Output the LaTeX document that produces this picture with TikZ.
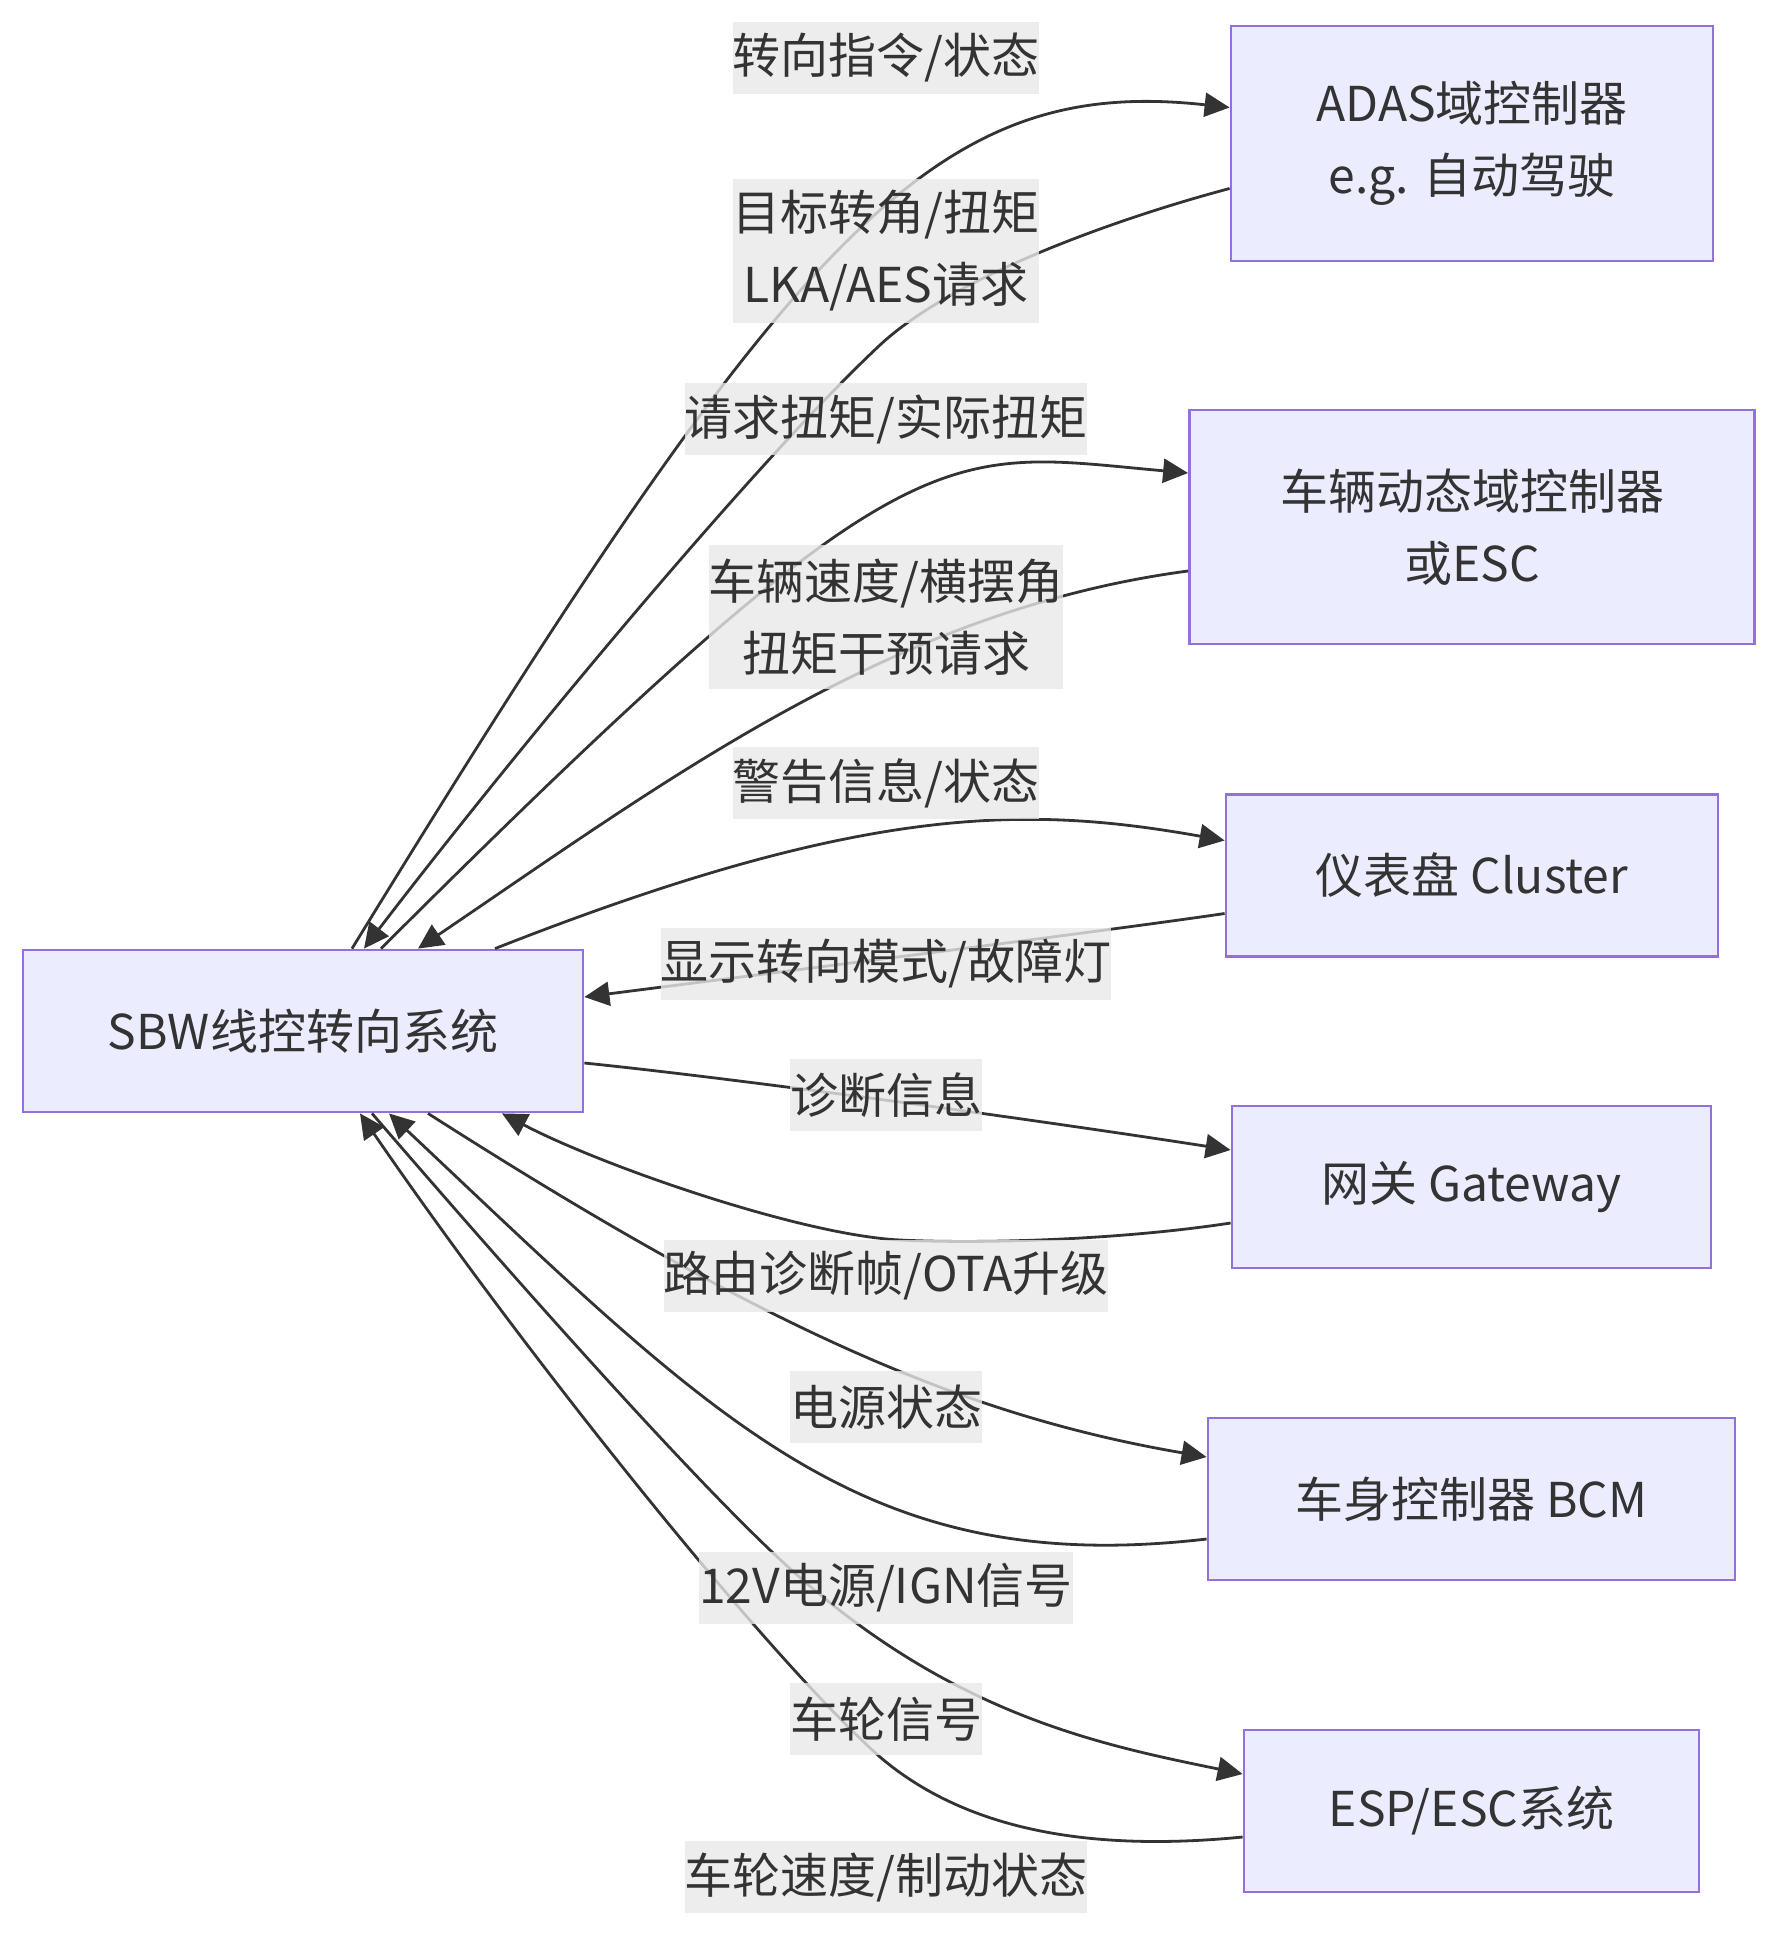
\documentclass[tikz,border=0pt]{standalone}
\usepackage{fontspec}
\setmainfont{Noto Sans CJK SC}
\usetikzlibrary{arrows.meta, calc}
\definecolor{boxfill}{HTML}{ECECFF}
\definecolor{boxline}{HTML}{9370DB}
\definecolor{inkgray}{HTML}{333333}
\definecolor{tagfill}{HTML}{E8E8E8}

\begin{document}
\begin{tikzpicture}[x=1pt, y=-1pt,
    every node/.style={font=\fontsize{48pt}{72pt}\selectfont, text=inkgray},
    sysbox/.style={draw=boxline, fill=boxfill, line width=2.8pt, minimum height=162pt, align=center},
    msglabel/.style={fill=tagfill, fill opacity=0.8, text opacity=1, inner sep=0pt, minimum height=72pt, align=center},
    flow/.style={draw=inkgray, line width=2.8pt, -{Triangle[length=25pt, width=24pt]}}]
    \useasboundingbox (0,0) rectangle (1778,1937);
    % Blocks
    \node[sysbox, minimum width=560pt] (sbw) at (303,1031) {SBW线控转向系统};
    \node[sysbox, minimum width=482pt, minimum height=235pt] (adas) at (1472,143.5) {ADAS域控制器\\e.g. 自动驾驶};
    \node[sysbox, minimum width=565pt, minimum height=234pt] (veh) at (1472,527) {车辆动态域控制器\\或ESC};
    \node[sysbox, minimum width=492pt] (clus) at (1472,875.5) {仪表盘 Cluster};
    \node[sysbox, minimum width=479pt] (gw) at (1471.5,1187) {网关 Gateway};
    \node[sysbox, minimum width=527pt] (bcm) at (1471.5,1499) {车身控制器 BCM};
    \node[sysbox, minimum width=455pt] (esp) at (1471.5,1811) {ESP/ESC系统};
    % Links
    \draw[flow] ($(sbw.north)+(49,0)$) .. controls (794,228) and (934,75) .. ($(adas.west)+(0,-36)$);
    \draw[flow] ($(adas.west)+(0,45)$) .. controls (1115,219) and (953,277) .. (880,345)
        .. controls (756,461) and (516,750) .. ($(sbw.north)+(61,0)$);
    \draw[flow] ($(sbw.north)+(78,0)$) .. controls (913,418) and (941,451) .. ($(veh.west)+(0,-54)$);
    \draw[flow] ($(veh.west)+(0,44)$) .. controls (893,610) and (667,780) .. ($(sbw.north)+(115,0)$);
    \draw[flow] ($(sbw.north)+(192,0)$) .. controls (867,802) and (1030,806) .. ($(clus.west)+(0,-35)$);
    \draw[flow] ($(clus.west)+(0,38)$) .. controls (1100,932) and (700,982) .. ($(sbw.east)+(0,-34)$);
    \draw[flow] ($(sbw.east)+(0,32)$) .. controls (750,1080) and (1050,1122) .. ($(gw.west)+(0,-37)$);
    \draw[flow] ($(gw.west)+(0,36)$) .. controls (1120,1240) and (980,1244) .. (900,1240)
        .. controls (800,1235) and (600,1165) .. ($(sbw.south)+(199,0)$);
    \draw[flow] ($(sbw.south)+(125,0)$) .. controls (764,1328) and (962,1415) .. ($(bcm.west)+(0,-42)$);
    \draw[flow] ($(bcm.west)+(0,40)$) .. controls (862,1579) and (718,1423) .. ($(sbw.south)+(86,0)$);
    \draw[flow] ($(sbw.south)+(69,0)$) .. controls (469,1226) and (662,1447) .. (770,1550)
        .. controls (940,1713) and (1097,1744) .. ($(esp.west)+(0,-37)$);
    \draw[flow] ($(esp.west)+(0,26)$) .. controls (1110,1850) and (975,1838) .. (880,1757)
        .. controls (768,1657) and (530,1361) .. ($(sbw.south)+(57,0)$);
    % Labels
    \node[msglabel] (l1) at (886,58) {转向指令/状态};
    \node[msglabel, minimum height=144pt] (l2) at (886,251) {目标转角/扭矩\\LKA/AES请求};
    \node[msglabel] (l3) at (886,419) {请求扭矩/实际扭矩};
    \node[msglabel, minimum height=144pt] (l4) at (886,617) {车辆速度/横摆角\\扭矩干预请求};
    \node[msglabel] (l5) at (886,783) {警告信息/状态};
    \node[msglabel] (l6) at (886,964) {显示转向模式/故障灯};
    \node[msglabel] (l7) at (886,1095) {诊断信息};
    \node[msglabel] (l8) at (886,1276) {路由诊断帧/OTA升级};
    \node[msglabel] (l9) at (886,1407) {电源状态};
    \node[msglabel] (l10) at (886,1588) {12V电源/IGN信号};
    \node[msglabel] (l11) at (886,1719) {车轮信号};
    \node[msglabel] (l12) at (886,1877) {车轮速度/制动状态};
\end{tikzpicture}
\end{document}
